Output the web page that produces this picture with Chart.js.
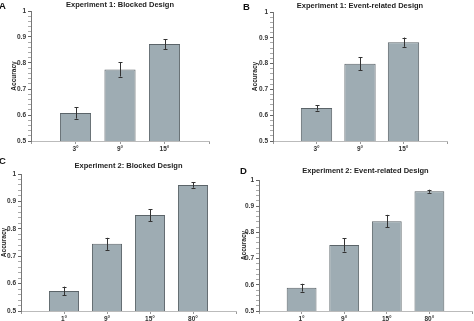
<!DOCTYPE html>
<html>
<head>
<meta charset="utf-8">
<script src="https://cdn.jsdelivr.net/npm/chart.js@4.4.1/dist/chart.umd.min.js"></script>
<style>
  html, body { margin: 0; padding: 0; background: #fff; }
  #wrap { position: relative; width: 474px; height: 321px; overflow: hidden; }
  canvas { position: absolute; }
  .tag { position: absolute; font: bold 9.5px "Liberation Sans", Arial, sans-serif; line-height: 9.5px; color: #111; }
</style>
</head>
<body>
<div id="wrap">
  <canvas id="cA" width="237" height="160" style="left:0;top:0"></canvas>
  <canvas id="cB" width="237" height="160" style="left:237px;top:0"></canvas>
  <canvas id="cC" width="237" height="161" style="left:0;top:160px"></canvas>
  <canvas id="cD" width="237" height="161" style="left:237px;top:160px"></canvas>
  <div class="tag" style="left:-1px;top:1px">A</div>
  <div class="tag" style="left:243px;top:2px">B</div>
  <div class="tag" style="left:-1px;top:156px">C</div>
  <div class="tag" style="left:240px;top:166px">D</div>
</div>
<script>
// data
const exp1Angles = ['3°', '9°', '15°'];
const exp2Angles = ['1°', '9°', '15°', '80°'];

const accA = [0.608, 0.775, 0.873];
const errA = [0.022, 0.027, 0.019];
const accB = [0.628, 0.799, 0.883];
const errB = [0.010, 0.025, 0.018];
const accC = [0.573, 0.745, 0.850, 0.960];
const errC = [0.016, 0.022, 0.022, 0.010];
const accD = [0.589, 0.752, 0.843, 0.957];
const errD = [0.015, 0.025, 0.024, 0.006];

const yMin = 0.5, yMax = 1, yMinorStep = 0.02;

const FONT = '"Liberation Sans", Arial, sans-serif';

// little plugin for the error whiskers
const errorBars = {
  id: 'errorBars',
  afterDatasetsDraw(chart) {
    const ctx = chart.ctx;
    const y = chart.scales.y;
    chart.data.datasets.forEach((ds, di) => {
      const meta = chart.getDatasetMeta(di);
      meta.data.forEach((bar, i) => {
        const v = ds.data[i].y, e = ds.errors[i];
        const top = y.getPixelForValue(v + e);
        const bot = y.getPixelForValue(v - e);
        const x = Math.round(bar.x) + 0.5;
        ctx.save();
        ctx.strokeStyle = '#333';
        ctx.lineWidth = 1;
        ctx.beginPath();
        ctx.moveTo(x, top); ctx.lineTo(x, bot);
        ctx.moveTo(x - 2, Math.round(top) + 0.5); ctx.lineTo(x + 2, Math.round(top) + 0.5);
        ctx.moveTo(x - 2, Math.round(bot) + 0.5); ctx.lineTo(x + 2, Math.round(bot) + 0.5);
        ctx.stroke();
        ctx.restore();
      });
    });
  }
};

function isMajor(v) {
  return Math.abs(v * 10 - Math.round(v * 10)) < 1e-6;
}

function makeChart(p) {
  const tickFont = { family: FONT, size: 6.5, weight: 'bold' };
  const titlePadTop = p.titleY - 3.75;
  new Chart(document.getElementById(p.id), {
    type: 'bar',
    data: {
      datasets: [{
        data: p.acc.map((v, i) => ({ x: i + 1, y: v })),
        errors: p.err,
        backgroundColor: '#9eacb3',
        borderColor: '#5b6469',
        borderWidth: 1,
        barPercentage: p.barPct,
        categoryPercentage: 1
      }]
    },
    options: {
      responsive: false,
      animation: false,
      layout: { padding: { left: 0, top: 0, bottom: 0, right: p.w - p.area.r } },
      plugins: {
        legend: { display: false },
        tooltip: { enabled: false },
        title: {
          display: true,
          text: p.title,
          fullSize: false,
          color: '#222',
          font: { family: FONT, size: 7.5, weight: 'bold', lineHeight: 1 },
          padding: { top: titlePadTop, bottom: p.area.t - titlePadTop - 7.5 }
        }
      },
      scales: {
        x: {
          type: 'linear',
          min: 0,
          max: p.cats.length + 1,
          offset: false,
          grid: { offset: false, drawOnChartArea: false, tickLength: 3, color: '#999' },
          border: { color: '#bbb' },
          ticks: {
            stepSize: 1, autoSkip: false, maxRotation: 0, padding: 1,
            color: '#333', font: tickFont,
            callback: v => p.cats[v - 1] || ''
          },
          afterFit: s => { s.height = p.h - p.area.b; }
        },
        y: {
          min: yMin,
          max: yMax,
          beginAtZero: false,
          grid: {
            drawOnChartArea: false, tickLength: 3,
            color: c => isMajor(c.tick.value) ? '#666' : '#aaa'
          },
          border: { color: '#777' },
          ticks: {
            stepSize: yMinorStep, autoSkip: false, padding: 2,
            color: '#333', font: tickFont,
            callback: v => isMajor(v) ? (v === 1 ? '1' : v.toFixed(1)) : ''
          },
          title: {
            display: true,
            text: 'Accuracy',
            color: '#222',
            font: { family: FONT, size: 6.5, weight: 'bold' },
            padding: { top: p.yTitleX - 3.9, bottom: 0 }
          },
          afterFit: s => { s.width = p.area.l; }
        }
      }
    },
    plugins: [errorBars]
  });
}

makeChart({ id: 'cA', title: 'Experiment 1: Blocked Design', cats: exp1Angles, acc: accA, err: errA,
  w: 237, h: 160, area: { l: 31, r: 209, t: 11, b: 141 }, titleY: 4.5, yTitleX: 14, barPct: 0.7 });
makeChart({ id: 'cB', title: 'Experiment 1: Event-related Design', cats: exp1Angles, acc: accB, err: errB,
  w: 237, h: 160, area: { l: 36, r: 210, t: 12, b: 141 }, titleY: 5.5, yTitleX: 18, barPct: 0.72 });
makeChart({ id: 'cC', title: 'Experiment 2: Blocked Design', cats: exp2Angles, acc: accC, err: errC,
  w: 237, h: 161, area: { l: 21, r: 237, t: 14, b: 151 }, titleY: 6, yTitleX: 4, barPct: 0.7 });
makeChart({ id: 'cD', title: 'Experiment 2: Event-related Design', cats: exp2Angles, acc: accD, err: errD,
  w: 237, h: 161, area: { l: 22, r: 235, t: 20, b: 151 }, titleY: 11, yTitleX: 7.3, barPct: 0.7 });
</script>
</body>
</html>
